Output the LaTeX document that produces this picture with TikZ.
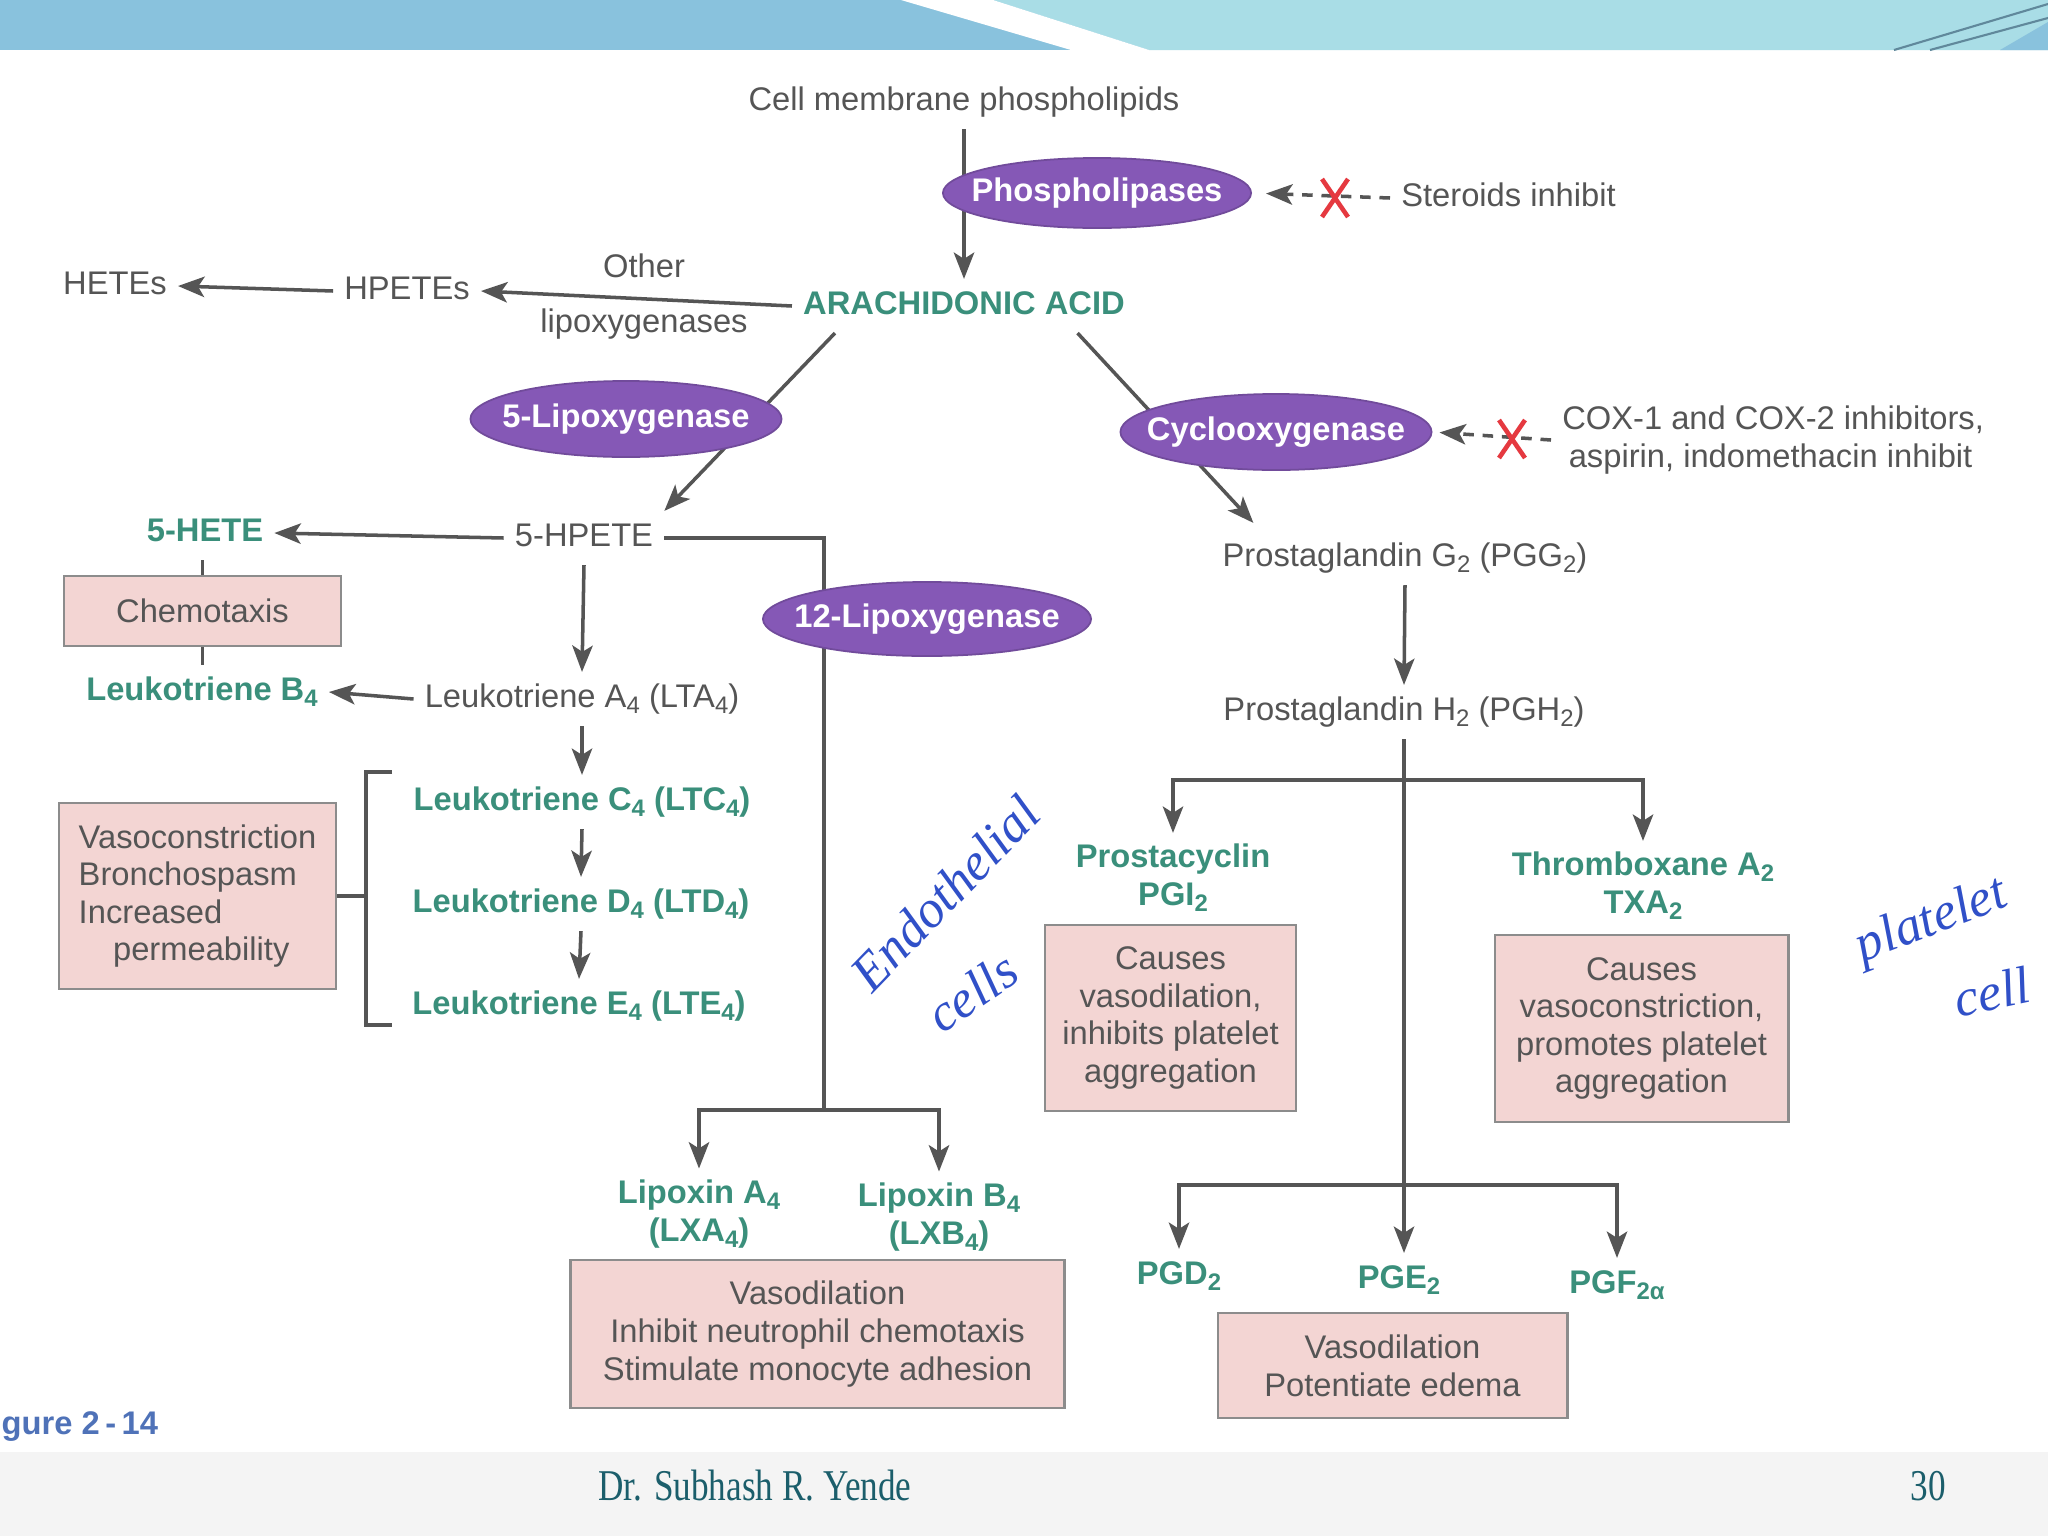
\documentclass[tikz,border=0pt]{standalone}
\usepackage{fontspec}
\setmainfont{Liberation Sans}
\newfontfamily\footfont[FakeStretch=0.8]{Liberation Serif}
\newfontfamily\handfont{Liberation Serif}
\usetikzlibrary{shapes.geometric,arrows.meta,calc}
\definecolor{txtgray}{HTML}{555555}
\definecolor{linegray}{HTML}{555555}
\definecolor{grn}{HTML}{3A8F7B}
\definecolor{enzpurple}{HTML}{8558B6}
\definecolor{boxpink}{HTML}{F3D5D3}
\definecolor{boxgray}{HTML}{8C8C8C}
\definecolor{xred}{HTML}{E53940}
\definecolor{handblue}{HTML}{3050C8}
\definecolor{footteal}{HTML}{1B5E6B}
\definecolor{figblue}{HTML}{4F72B8}
\definecolor{bannerblue}{HTML}{89C2DD}
\definecolor{bannercyan}{HTML}{A9DDE6}
\definecolor{footgray}{HTML}{F4F4F4}
\newcommand\msub[1]{\raisebox{-0.35ex}{\fontsize{6.8}{7}\selectfont #1}}
\newcommand\zw[1]{\makebox[0pt]{#1}}
\pgfdeclarelayer{back}
\pgfdeclarelayer{lines}
\pgfsetlayers{back,lines,main}
\begin{document}
\begin{tikzpicture}[x=0.01cm,y=-0.01cm,
  font=\fontsize{9.3}{10.8}\selectfont,
  t/.style={text=txtgray, inner sep=3pt, text height=7pt, text depth=2pt},
  g/.style={t, text=grn, font=\fontsize{9.3}{10.8}\selectfont\bfseries},
  gm/.style={text=grn, inner sep=3pt, align=center, font=\fontsize{9.3}{10.8}\selectfont\bfseries},
  tm/.style={text=txtgray, inner sep=3pt},
  enz/.style={ellipse, fill=enzpurple, draw=enzpurple!85!black, line width=0.5pt, text=white, inner sep=0pt, font=\fontsize{9.3}{10.8}\selectfont\bfseries},
  pbox/.style={draw=boxgray, fill=boxpink, line width=0.8pt, text=txtgray, inner sep=0pt, align=center, font=\fontsize{9.3}{10.7}\selectfont},
  arr/.style={draw=linegray, line width=1pt, -{Stealth[length=7.5pt,width=5.8pt,inset=1.8pt]}},
  ln/.style={draw=linegray, line width=1pt},
  dsh/.style={arr, dash pattern=on 3pt off 2.5pt},
  xmark/.style={draw=xred, line width=1.3pt},
  hand/.style={text=handblue, font=\handfont\itshape\fontsize{15}{15}\selectfont, inner sep=0pt}
]
\useasboundingbox (0,0) rectangle (2048,1536);
\begin{pgfonlayer}{back}
  \fill[white] (0,0) rectangle (2048,1536);
  \fill[bannerblue] (0,0) rectangle (2048,50);
  \fill[bannercyan] (993,0) -- (2048,0) -- (2048,50) -- (1149,50) -- cycle;
  \fill[white] (901,0) -- (993,0) -- (1149,50) -- (1071,50) -- cycle;
  \draw[bannerblue!70!black, line width=0.6pt] (1894,50) -- (2048,4);
  \draw[bannerblue!70!black, line width=0.6pt] (1930,50) -- (2048,18);
  \fill[bannerblue] (2000,50) -- (2048,22) -- (2048,50) -- cycle;
  \fill[footgray] (0,1452) rectangle (2048,1536);
\end{pgfonlayer}

% ---------- nodes ----------
\node[t] (cell) at (964,102) {Cell membrane phospholipids};
\node[enz, minimum width=3.08cm, minimum height=0.70cm] (phos) at (1097,193) {\zw{Phospholipases}};
\node[t, anchor=west] (ster) at (1390,198) {Steroids inhibit};
\node[g] (arach) at (964,306) {ARACHIDONIC ACID};
\node[t] (other) at (644,269) {Other};
\node[t] (lipox) at (644,324) {lipoxygenases};
\node[t] (hpetes) at (407,291) {HPETEs};
\node[t] (hetes) at (115,286) {HETEs};
\node[enz, minimum width=3.11cm, minimum height=0.76cm] (lox5) at (626,419) {\zw{5-Lipoxygenase}};
\node[enz, minimum width=3.11cm, minimum height=0.76cm] (cox) at (1276,432) {\zw{Cyclooxygenase}};
\node[tm, anchor=west, align=left] (coxt) at (1551,440) {COX-1 and COX-2 inhibitors,\\\hspace*{0.2em}aspirin, indomethacin inhibit};
\node[t] (hpete5) at (584,538) {5-HPETE};
\node[g] (hete5) at (205,533) {5-HETE};
\node[pbox, minimum width=2.77cm, minimum height=0.70cm] (chemo) at (202.5,611) {Chemotaxis};
\node[enz, minimum width=3.28cm, minimum height=0.74cm] (lox12) at (927,619) {\zw{12-Lipoxygenase}};
\node[t] (lta) at (582,699) {Leukotriene A\msub{4} (LTA\msub{4})};
\node[g] (ltb) at (202,692) {Leukotriene B\msub{4}};
\node[g] (ltc) at (582,802) {Leukotriene C\msub{4} (LTC\msub{4})};
\node[g] (ltd) at (581,904) {Leukotriene D\msub{4} (LTD\msub{4})};
\node[g] (lte) at (579,1006) {Leukotriene E\msub{4} (LTE\msub{4})};
\node[pbox, align=left, minimum width=2.77cm, minimum height=1.86cm] (vaso) at (197.5,896) {Vasoconstriction\\Bronchospasm\\Increased\\\hspace*{1.05em}permeability};
\node[t] (pgg) at (1405,558) {Prostaglandin G\msub{2} (PGG\msub{2})};
\node[t] (pgh) at (1404,712) {Prostaglandin H\msub{2} (PGH\msub{2})};
\node[gm] (pgi) at (1173,878) {Prostacyclin\\PGI\msub{2}};
\node[gm] (txa) at (1643,886) {Thromboxane A\msub{2}\\TXA\msub{2}};
\node[pbox, minimum width=2.51cm, minimum height=1.86cm] (pgibox) at (1170.5,1018) {Causes\\vasodilation,\\inhibits platelet\\aggregation};
\node[pbox, minimum width=2.93cm, minimum height=1.87cm] (txabox) at (1641.5,1028.5) {Causes\\vasoconstriction,\\promotes platelet\\aggregation};
\node[gm] (lxa) at (699,1214) {Lipoxin A\msub{4}\\(LXA\msub{4})};
\node[gm] (lxb) at (939,1217) {Lipoxin B\msub{4}\\(LXB\msub{4})};
\node[pbox, minimum width=4.93cm, minimum height=1.48cm] (lxbox) at (817.5,1334) {Vasodilation\\Inhibit neutrophil chemotaxis\\Stimulate monocyte adhesion};
\node[g] (pgd) at (1179,1276) {PGD\msub{2}};
\node[g] (pge) at (1399,1280) {PGE\msub{2}};
\node[g] (pgf) at (1617,1285) {PGF\msub{2α}};
\node[pbox, minimum width=3.49cm, minimum height=1.05cm] (pgebox) at (1392.5,1365.5) {Vasodilation\\Potentiate edema};
\node[text=figblue, font=\fontsize{9.3}{10.8}\selectfont\bfseries, inner sep=0pt, anchor=west] (figl) at (1,1427) {gure 2\,-\,14};
\node[text=footteal, font=\footfont\fontsize{12.5}{13}\selectfont, inner sep=0pt] (auth) at (755,1486) {Dr. Subhash R. Yende};
\node[text=footteal, font=\footfont\fontsize{12.5}{13}\selectfont, inner sep=0pt] (pnum) at (1928,1486) {30};
\node[hand, rotate=46] (endo) at (945,893) {Endothelial};
\node[hand, rotate=35] (cells) at (972,992) {cells};
\node[hand, rotate=21] (plat) at (1932,922) {platelet};
\node[hand, rotate=12] (pcell) at (1992,992) {cell};

% ---------- coordinates ----------
\coordinate (j12) at (824,1110);
\coordinate (h1) at (1404,780);
\coordinate (h2) at (1404,1185);
\coordinate (bl) at (366,772);
\coordinate (bt) at (392,772);
\coordinate (bb) at (392,1025);
\coordinate (x1) at (1335,198);
\coordinate (x2) at (1512,439);

% ---------- connectors ----------
\begin{pgfonlayer}{lines}
  \draw[arr] (cell.south) -- (arach.north);
  \draw[dsh, shorten >=4pt] (ster.west) -- (phos.east);
  \draw[arr] (arach.west) -- (hpetes.east);
  \draw[arr] (hpetes.west) -- (hetes.east);
  \draw[arr] ($(arach.south west)!0.25!(arach.south)$) -- (hpete5.north east);
  \draw[arr] ($(arach.south)!0.66!(arach.south east)$) -- ($(pgg.north west)+(42,-8)$);
  \draw[dsh, shorten >=2pt] (coxt.west) -- (cox.east);
  \draw[arr] (hpete5.west) -- (hete5.east);
  \draw[ln] (hpete5.east) -| (j12);
  \draw[arr] (j12) -| (lxa.north);
  \draw[arr] (j12) -| (lxb.north);
  \draw[arr] (hpete5.south) -- (lta.north);
  \draw[arr] (lta.west) -- (ltb.east);
  \draw[ln] (chemo.north) -- (chemo.north |- hete5.south);
  \draw[ln] (chemo.south) -- (chemo.south |- ltb.north);
  \draw[arr] (lta.south) -- (ltc.north);
  \draw[arr] (ltc.south) -- (ltd.north);
  \draw[arr] (ltd.south) -- (lte.north);
  \draw[ln] (bt) -- (bl) -- (bl |- bb) -- (bb);
  \draw[ln] (vaso.east) -- (vaso.east -| bl);
  \draw[arr] (pgg.south) -- (pgh.north);
  \draw[arr] (pgh.south) -- (pgh.south |- pge.north);
  \draw[arr] (h1) -| (pgi.north);
  \draw[arr] (h1) -| (txa.north);
  \draw[arr] (h2) -| (pgd.north);
  \draw[arr] (h2) -| (pgf.north);
\end{pgfonlayer}
\draw[xmark] ($(x1)+(-13,-19)$) -- ($(x1)+(13,19)$);
\draw[xmark] ($(x1)+(13,-19)$) -- ($(x1)+(-13,19)$);
\draw[xmark] ($(x2)+(-13,-19)$) -- ($(x2)+(13,19)$);
\draw[xmark] ($(x2)+(13,-19)$) -- ($(x2)+(-13,19)$);
\end{tikzpicture}
\end{document}
